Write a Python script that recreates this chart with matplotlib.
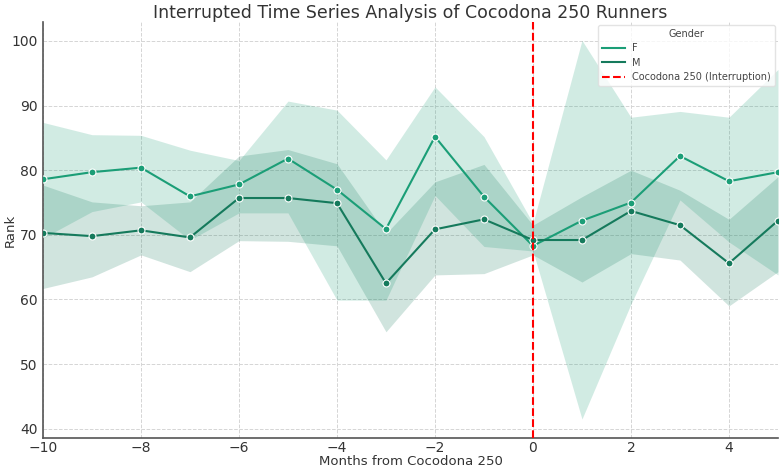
import matplotlib
matplotlib.use("Agg")
import matplotlib.pyplot as plt
from matplotlib.lines import Line2D

months = [-10, -9, -8, -7, -6, -5, -4, -3, -2, -1, 0, 1, 2, 3, 4, 5]

f_mean = [78.6, 79.7, 80.4, 75.95, 77.8, 81.8, 77.0, 70.9, 85.2, 75.9, 68.3, 72.2, 75.0, 82.2, 78.3, 79.7]
f_low = [69.5, 73.6, 75.1, 69.2, 73.4, 73.4, 59.9, 59.9, 76.1, 68.2, 67.5, 41.5, 59.3, 75.4, 68.9, 63.8]
f_high = [87.4, 85.5, 85.4, 83.1, 81.5, 90.7, 89.3, 81.6, 92.9, 85.2, 71.8, 100.1, 88.2, 89.1, 88.2, 95.6]

m_mean = [70.3, 69.8, 70.7, 69.6, 75.7, 75.7, 74.9, 62.5, 70.85, 72.4, 69.2, 69.2, 73.7, 71.5, 65.6, 72.2]
m_low = [61.7, 63.5, 66.9, 64.3, 69.1, 69.0, 68.3, 55.0, 63.8, 64.0, 66.9, 62.7, 67.1, 66.1, 59.0, 64.3]
m_high = [77.7, 75.1, 74.5, 75.1, 82.2, 83.2, 81.0, 70.2, 78.2, 80.9, 71.5, 75.9, 80.0, 76.9, 72.4, 79.0]

x_ticks = [-10, -8, -6, -4, -2, 0, 2, 4]
y_ticks = [40, 50, 60, 70, 80, 90, 100]

col_f = "#1b9e77"
col_m = "#157a5c"

fig = plt.figure(figsize=(7.8, 4.69), dpi=100)
ax = fig.add_axes([0.0551, 0.0661, 0.9423, 0.887])

ax.fill_between(months, f_low, f_high, color=col_f, alpha=0.2, linewidth=0)
ax.plot(months, f_mean, color=col_f, lw=1.5, marker="o", ms=5,
        markeredgecolor="white", markeredgewidth=0.8, zorder=3)
ax.fill_between(months, m_low, m_high, color=col_m, alpha=0.2, linewidth=0)
ax.plot(months, m_mean, color=col_m, lw=1.5, marker="o", ms=5,
        markeredgecolor="white", markeredgewidth=0.8, zorder=3)

ax.axvline(0, color="red", linestyle="--", lw=1.5, zorder=4)

ax.set_xlim(-10, 5)
ax.set_ylim(38.56, 102.94)
ax.set_xticks(x_ticks)
ax.set_yticks(y_ticks)
ax.grid(True, linestyle="--", color="#d5d5d5", lw=0.7)
ax.set_axisbelow(True)
for s in ["top", "right"]:
    ax.spines[s].set_visible(False)
for s in ["left", "bottom"]:
    ax.spines[s].set_color("#555555")
    ax.spines[s].set_linewidth(1.2)
ax.tick_params(axis="both", length=0, labelsize=10, labelcolor="#333333")
ax.tick_params(axis="x", pad=2)
ax.tick_params(axis="y", pad=4)

ax.set_title("Interrupted Time Series Analysis of Cocodona 250 Runners",
             fontsize=12.5, color="#333333", pad=3)
ax.set_xlabel("Months from Cocodona 250", fontsize=9.5, color="#333333")
ax.set_ylabel("Rank", fontsize=9.5, color="#333333")
ax.xaxis.set_label_coords(0.5, -0.042)
ax.yaxis.set_label_coords(-0.036, 0.5)

handles = [Line2D([], [], color=col_f, lw=1.5),
           Line2D([], [], color=col_m, lw=1.5),
           Line2D([], [], color="red", lw=1.5, linestyle="--")]
leg = ax.legend(handles, ["F", "M", "Cocodona 250 (Interruption)"], title="Gender",
                loc="upper right", fontsize=7, title_fontsize=7, frameon=True,
                borderaxespad=0.3, handlelength=2.3, labelspacing=0.45)
leg.get_frame().set_edgecolor("#dddddd")
leg.get_title().set_color("#444444")
for t in leg.get_texts():
    t.set_color("#444444")

fig.savefig("out.png", dpi=100)
